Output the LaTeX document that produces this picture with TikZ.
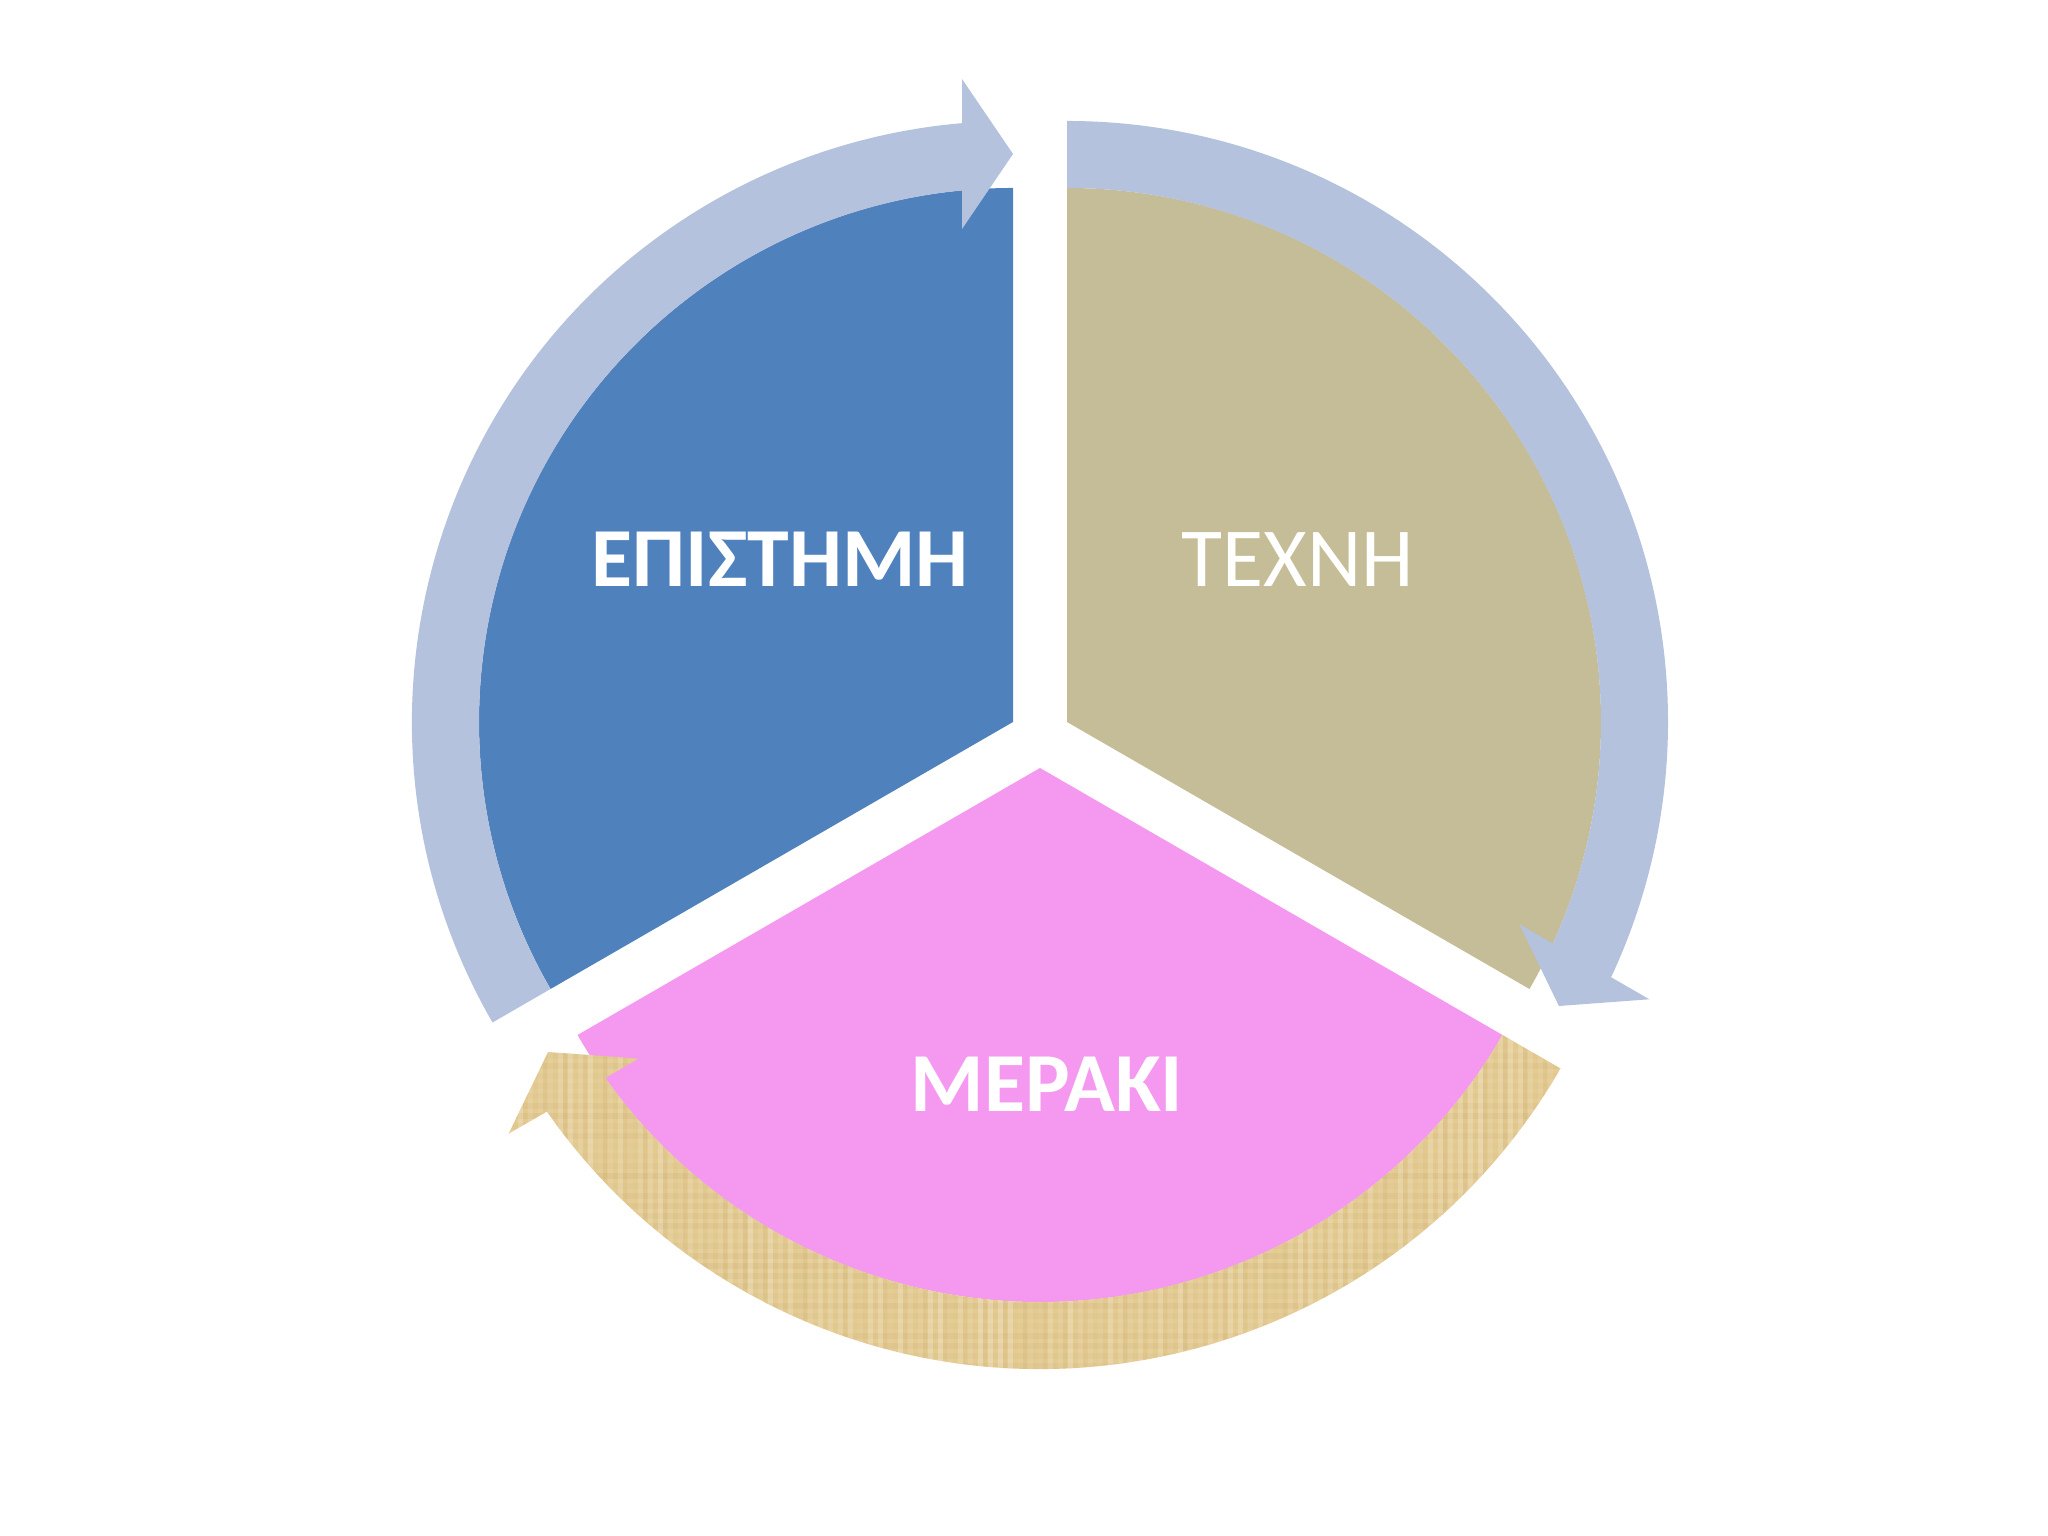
\documentclass[tikz,border=0pt]{standalone}
\usepackage{fontspec}
\setmainfont{Carlito}
\usetikzlibrary{calc}
\definecolor{segblue}{HTML}{4F81BD}
\definecolor{segtan}{HTML}{C4BD97}
\definecolor{segpink}{HTML}{F598F0}
\definecolor{arrowblue}{HTML}{B4C2DD}
\definecolor{papyrus}{HTML}{E4CB92}
\definecolor{papyrusdark}{HTML}{C4A66A}
\begin{document}
\begin{tikzpicture}[x=0.3pt,y=0.3pt,
  % #1 centre, #2 start angle, #3 tip angle (clockwise arrows)
  ringarrow/.style n args={3}{insert path={
    (#1) ++(#2:601) arc[start angle=#2,end angle={#3+4.866},radius=601]
    -- ($(#1)+({#3+4.535}:645)$) -- ($(#1)+(#3:568)$) -- ($(#1)+({#3+5.906}:495.6)$)
    -- ($(#1)+({#3+5.48}:534)$)
    arc[start angle={#3+5.48},end angle=#2,radius=534] -- cycle}},
  seglabel/.style={text=white,inner sep=0pt,anchor=center},
  boldlabel/.style={seglabel,font=\fontsize{25.2}{30}\selectfont\bfseries},
  thinlabel/.style={seglabel,font=\fontsize{25.2}{30}\selectfont}]
\useasboundingbox[fill=white] (0,0) rectangle (2048,1536);
\coordinate (cB) at (1013,814);
\coordinate (cT) at (1067,814);
\coordinate (cP) at (1040,768);
% segments
\fill[segblue] (cB) -- ++(90:534) arc[start angle=90,end angle=210,radius=534] -- cycle;
\fill[segtan] (cT) -- ++(90:534) arc[start angle=90,end angle=-30,radius=534] -- cycle;
\fill[segpink] (cP) -- ++(210:534) arc[start angle=210,end angle=330,radius=534] -- cycle;
% arrows
\fill[arrowblue, ringarrow={cB}{210}{90}];
\fill[arrowblue, ringarrow={cT}{90}{-30}];
\begin{scope}
  \clip[ringarrow={cP}{-30}{-150}];
  \fill[papyrus] (400,100) rectangle (1700,800);
  \pgfmathsetseed{11}
  \foreach \i in {0,...,70}{
    \pgfmathsetmacro\op{0.04+0.18*rnd}
    \draw[papyrusdark,opacity=\op,line width=2pt] (400,100+\i*10) -- (1700,100+\i*10);
  }
  \foreach \i in {0,...,130}{
    \pgfmathsetmacro\op{0.04+0.2*rnd}
    \draw[white,opacity=\op,line width=1.5pt] (400+\i*10,100) -- (400+\i*10,800);
  }
  \foreach \i in {0,...,64}{
    \pgfmathsetmacro\op{0.03+0.12*rnd}
    \draw[papyrusdark,opacity=\op,line width=1pt] (405+\i*20,100) -- (405+\i*20,800);
  }
\end{scope}
% labels
\node[boldlabel] (episteme) at (780,977) {ΕΠΙΣΤΗΜΗ};
\node[thinlabel] (techne) at (1298,976) {ΤΕΧΝΗ};
\node[boldlabel] (meraki) at (1047,452) {ΜΕΡΑΚΙ};
\end{tikzpicture}
\end{document}
